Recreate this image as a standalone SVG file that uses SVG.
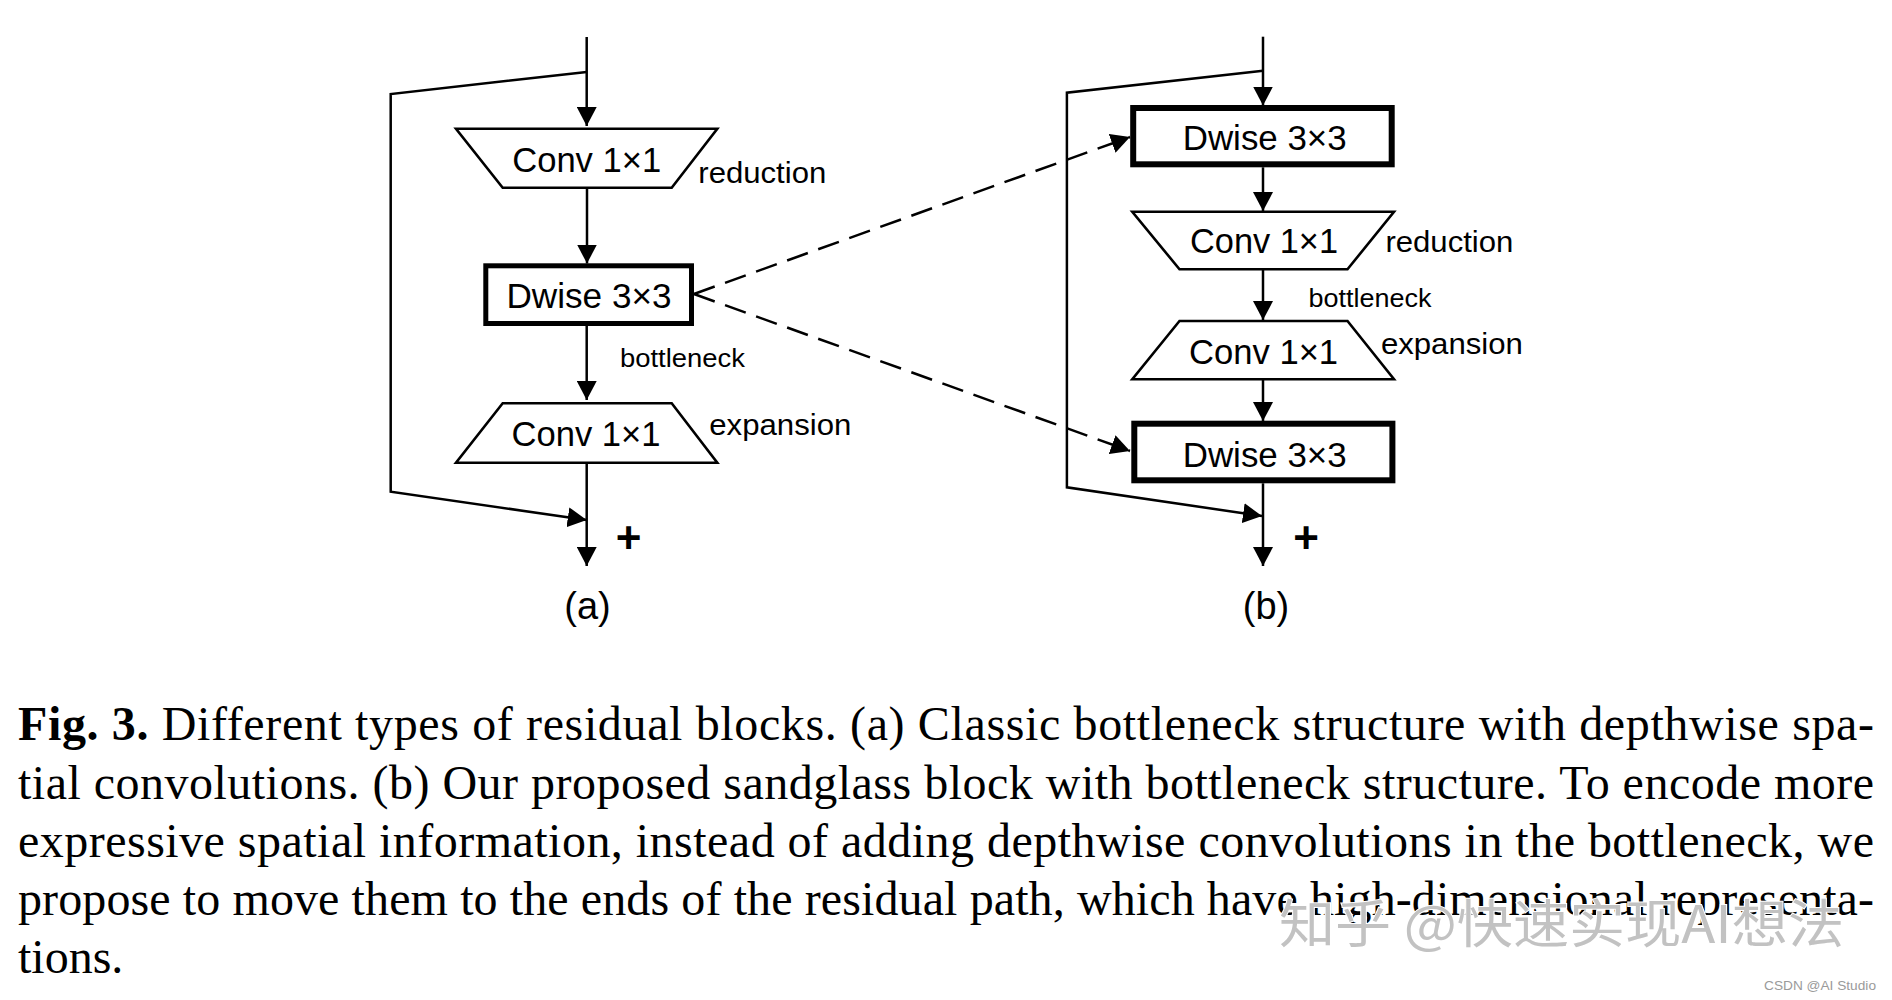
<svg xmlns="http://www.w3.org/2000/svg" width="1892" height="1000" viewBox="0 0 1892 1000">
<style>
.bg{fill:#fff}
.ln{fill:none;stroke:#000;stroke-width:2.5}
.dash{fill:none;stroke:#000;stroke-width:2.5;stroke-dasharray:22 11}
.trap{fill:#fff;stroke:#000;stroke-width:2.6;stroke-linejoin:miter}
.dwa{fill:#fff;stroke:#000;stroke-width:5}
.dwb{fill:#fff;stroke:#000;stroke-width:6}
.nt{font-family:"Liberation Sans",Arial,Helvetica,sans-serif;font-size:35px;fill:#000;text-anchor:middle}
.lab{font-family:"Liberation Sans",Arial,Helvetica,sans-serif;font-size:29px;fill:#000}
.bn{font-family:"Liberation Sans",Arial,Helvetica,sans-serif;font-size:25px;fill:#000}
.sub{font-family:"Liberation Sans",Arial,Helvetica,sans-serif;font-size:38px;fill:#000;text-anchor:middle}
.plus{font-family:"Liberation Sans",Arial,Helvetica,sans-serif;font-size:44px;font-weight:bold;fill:#000;text-anchor:middle}
.cap{font-family:"Liberation Serif","Times New Roman",Times,serif;font-size:48px;fill:#000}
.wm{font-family:"Noto Sans CJK SC","Noto Sans",sans-serif;font-size:52px;fill:#c2c2c2;stroke:#fff;stroke-width:2;paint-order:stroke}
.csdn{font-family:"Liberation Sans",Arial,sans-serif;font-size:13.7px;fill:#9a9a9a}
</style>
<defs>
<marker id="ah" markerUnits="userSpaceOnUse" markerWidth="20" markerHeight="20" refX="19" refY="10" orient="auto" viewBox="0 0 20 20">
<path d="M0,0 L19,10 L0,20 Z" fill="#000"/>
</marker>
</defs>
<rect class="bg" x="0" y="0" width="1892" height="1000"/>

<g id="connectors">
<!-- (a) -->
<line class="ln" x1="586.7" y1="37" x2="586.7" y2="126" marker-end="url(#ah)"/>
<polyline class="ln" points="586.7,72 390.7,94 390.7,491.7 586.7,520" marker-end="url(#ah)"/>
<line class="ln" x1="587" y1="188" x2="587" y2="263.5" marker-end="url(#ah)"/>
<line class="ln" x1="586.7" y1="326" x2="586.7" y2="400" marker-end="url(#ah)"/>
<line class="ln" x1="586.7" y1="462.7" x2="586.7" y2="566" marker-end="url(#ah)"/>
<!-- (b) -->
<line class="ln" x1="1263" y1="36.7" x2="1263" y2="105.5" marker-end="url(#ah)"/>
<polyline class="ln" points="1263,70.7 1066.9,92.7 1066.9,487.3 1262,516" marker-end="url(#ah)"/>
<line class="ln" x1="1263" y1="167.3" x2="1263" y2="211" marker-end="url(#ah)"/>
<line class="ln" x1="1263" y1="269.3" x2="1263" y2="320" marker-end="url(#ah)"/>
<line class="ln" x1="1263" y1="379.3" x2="1263" y2="421" marker-end="url(#ah)"/>
<line class="ln" x1="1263" y1="483.3" x2="1263" y2="566" marker-end="url(#ah)"/>
<!-- dashed -->
<line class="dash" x1="694" y1="294" x2="1130" y2="137" marker-end="url(#ah)"/>
<line class="dash" x1="694" y1="294" x2="1130" y2="451" marker-end="url(#ah)"/>
</g>

<g id="a-conv-reduction">
<polygon class="trap" points="456,128.7 717.3,128.7 671.7,187.7 502.7,187.7"/>
<text class="nt" x="586.7" y="171.7" textLength="149" lengthAdjust="spacingAndGlyphs">Conv 1×1</text>
<text class="lab" x="698.3" y="183.3" textLength="128" lengthAdjust="spacingAndGlyphs">reduction</text>
</g>
<g id="a-dwise">
<rect class="dwa" x="485.8" y="265.8" width="205.7" height="57.7"/>
<text class="nt" x="589" y="308.3" textLength="165" lengthAdjust="spacingAndGlyphs">Dwise 3×3</text>
<text class="bn" x="620" y="366.7" textLength="125" lengthAdjust="spacingAndGlyphs">bottleneck</text>
</g>
<g id="a-conv-expansion">
<polygon class="trap" points="502.7,403.3 671.7,403.3 717.3,462.7 456,462.7"/>
<text class="nt" x="586" y="445.7" textLength="149" lengthAdjust="spacingAndGlyphs">Conv 1×1</text>
<text class="lab" x="709.3" y="435" textLength="142" lengthAdjust="spacingAndGlyphs">expansion</text>
</g>
<g id="a-sum">
<text class="plus" x="628.7" y="553">+</text>
<text class="sub" x="587.5" y="619">(a)</text>
</g>

<g id="b-dwise-top">
<rect class="dwb" x="1133.2" y="108" width="258.5" height="56.3"/>
<text class="nt" x="1264.7" y="150" textLength="164" lengthAdjust="spacingAndGlyphs">Dwise 3×3</text>
</g>
<g id="b-conv-reduction">
<polygon class="trap" points="1132.3,211.7 1394,211.7 1347.5,269.3 1179.5,269.3"/>
<text class="nt" x="1264" y="253.3" textLength="148" lengthAdjust="spacingAndGlyphs">Conv 1×1</text>
<text class="lab" x="1385.4" y="252.3" textLength="128" lengthAdjust="spacingAndGlyphs">reduction</text>
<text class="bn" x="1308.6" y="306.7" textLength="123" lengthAdjust="spacingAndGlyphs">bottleneck</text>
</g>
<g id="b-conv-expansion">
<polygon class="trap" points="1179.5,321 1347.5,321 1394,379.3 1132.3,379.3"/>
<text class="nt" x="1263.6" y="364" textLength="149" lengthAdjust="spacingAndGlyphs">Conv 1×1</text>
<text class="lab" x="1380.9" y="354" textLength="142" lengthAdjust="spacingAndGlyphs">expansion</text>
</g>
<g id="b-dwise-bottom">
<rect class="dwb" x="1134.3" y="423.7" width="258.1" height="56.6"/>
<text class="nt" x="1264.7" y="466.7" textLength="164" lengthAdjust="spacingAndGlyphs">Dwise 3×3</text>
</g>
<g id="b-sum">
<text class="plus" x="1306" y="553">+</text>
<text class="sub" x="1266" y="619">(b)</text>
</g>

<g id="caption">
<text class="cap" x="18" y="740" textLength="1856" lengthAdjust="spacing"><tspan font-weight="bold">Fig. 3.</tspan> Different types of residual blocks. (a) Classic bottleneck structure with depthwise spa-</text>
<text class="cap" x="18" y="798.5" textLength="1856" lengthAdjust="spacing">tial convolutions. (b) Our proposed sandglass block with bottleneck structure. To encode more</text>
<text class="cap" x="18" y="857" textLength="1856" lengthAdjust="spacing">expressive spatial information, instead of adding depthwise convolutions in the bottleneck, we</text>
<text class="cap" x="18" y="915" textLength="1856" lengthAdjust="spacing">propose to move them to the ends of the residual path, which have high-dimensional representa-</text>
<text class="cap" x="18" y="973.3">tions.</text>
</g>

<g id="watermark">
<text class="wm" x="1279" y="943" textLength="565" lengthAdjust="spacingAndGlyphs">知乎 @快速实现AI想法</text>
<text class="csdn" x="1764" y="990" textLength="112" lengthAdjust="spacingAndGlyphs">CSDN @AI Studio</text>
</g>
</svg>
